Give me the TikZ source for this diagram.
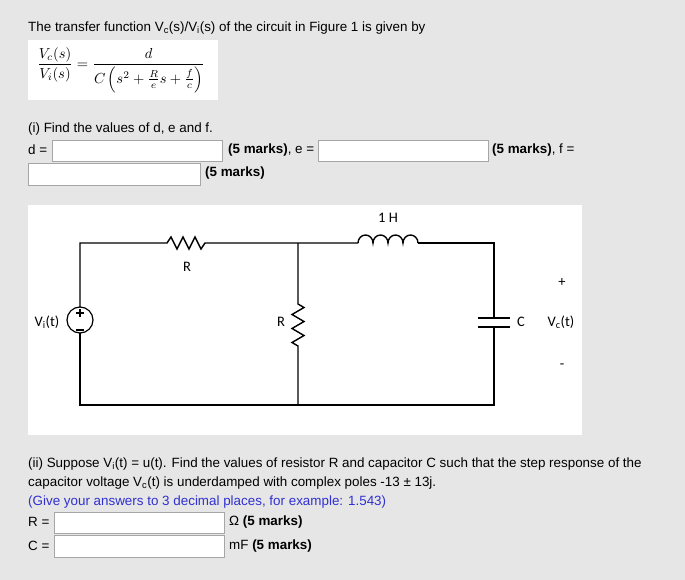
\documentclass[tikz,border=0pt]{standalone}
\usepackage{amsmath}
\usepackage{fontspec}
\setmainfont{Liberation Sans}
\newfontfamily\calfont{Carlito}
\usetikzlibrary{calc}
\definecolor{bg}{HTML}{E6E6E6}
\definecolor{qblue}{HTML}{3030D0}
\begin{document}
\begin{tikzpicture}[x=1pt,y=-1pt,
  txt/.style={anchor=west,inner sep=0pt,font=\fontsize{13.4}{15}\selectfont},
  field/.style={draw=gray!70,fill=white,line width=0.6pt},
  wire/.style={line width=1.4pt},
  clab/.style={inner sep=0pt,font=\calfont\fontsize{14.5}{16}\selectfont}]
\useasboundingbox[fill=bg] (0,0) rectangle (685,580);
\node[txt] (t1) at (28,28) {The transfer function V\textsubscript{c}(s)/V\textsubscript{i}(s) of the circuit in Figure 1 is given by};
\fill[white] (28,40) rectangle (218,100);
\node[inner sep=0pt,scale=1.45] (eq) at (121,70) {$\displaystyle \frac{V_c(s)}{V_i(s)}=\frac{d}{C\left(s^2+\frac{R}{e}s+\frac{f}{c}\right)}$};
\node[txt] (q1) at (28,129) {(i) Find the values of d, e and f.};
\node[txt] (dl) at (28,150) {d =};
\draw[field] (52,140) rectangle (222,161);
\node[txt] (dm) at (228,150) {\textbf{(5 marks)}, e =};
\draw[field] (318,140) rectangle (488,161);
\node[txt] (em) at (492,150) {\textbf{(5 marks)}, f =};
\draw[field] (28,163) rectangle (200,185);
\node[txt] (fm) at (205,173) {\textbf{(5 marks)}};
% circuit panel
\fill[white] (28,205) rectangle (582,435);
\coordinate (tl) at (80,243); \coordinate (bl) at (80,405);
\coordinate (tm) at (298,243); \coordinate (bm) at (298,405);
\coordinate (tr) at (494,243); \coordinate (br) at (494,405);
\draw[wire] (80,307) -- (tl) -- (167,243)
  -- ++(4,-6) -- ++(6,12) -- ++(6,-12) -- ++(6,12) -- ++(6,-12) -- ++(6,12) -- ++(4,-6)
  -- (tm) -- (358,243);
\draw[wire] (358,243) arc (180:360:7.5 and 8) arc (180:360:7.5 and 8) arc (180:360:7.5 and 8) arc (180:360:7.5 and 8);
\draw[wire] (418,243) -- (tr) -- (494,318);
\draw[wire] (478,318) -- (510,318) (478,327) -- (510,327);
\draw[wire] (494,327) -- (br) -- (bl) -- (80,333);
\draw[wire] (tm) -- (298,304) -- ++(6,3.5) -- ++(-12,7) -- ++(12,7) -- ++(-12,7) -- ++(12,7) -- ++(-12,7) -- ++(6,3.5) -- (bm);
\draw[line width=1.2pt] (80,320) circle (13);
\draw[line width=1.4pt] (76,313) -- (84,313) (80,309) -- (80,317);
\draw[line width=1.4pt] (76,330) -- (84,330);
\node[clab] (l1) at (187,267) {R};
\node[clab] (l2) at (281,322) {R};
\node[clab] (l3) at (388,218) {1 H};
\node[clab] (l4) at (521,322) {C};
\node[clab] (l5) at (561,322) {V\textsubscript{c}(t)};
\node[clab] (l6) at (562,283) {+};
\node[clab] (l7) at (562,366) {-};
\node[clab] (l8) at (47,322) {V\textsubscript{i}(t)};
% part ii
\node[txt] (q2) at (28,464) {(ii) Suppose V\textsubscript{i}(t) = u(t). Find the values of resistor R and capacitor C such that the step response of the};
\node[txt] (q3) at (28,483) {capacitor voltage V\textsubscript{c}(t) is underdamped with complex poles -13 ± 13j.};
\node[txt,text=qblue] (q4) at (28,502) {(Give your answers to 3 decimal places, for example: 1.543)};
\node[txt] (rl) at (28,522) {R =};
\draw[field] (54,512) rectangle (224,533);
\node[txt] (rm) at (229,522) {Ω \textbf{(5 marks)}};
\node[txt] (cl) at (28,546) {C =};
\draw[field] (54,535) rectangle (224,557);
\node[txt] (cm) at (229,546) {mF \textbf{(5 marks)}};
\end{tikzpicture}
\end{document}
